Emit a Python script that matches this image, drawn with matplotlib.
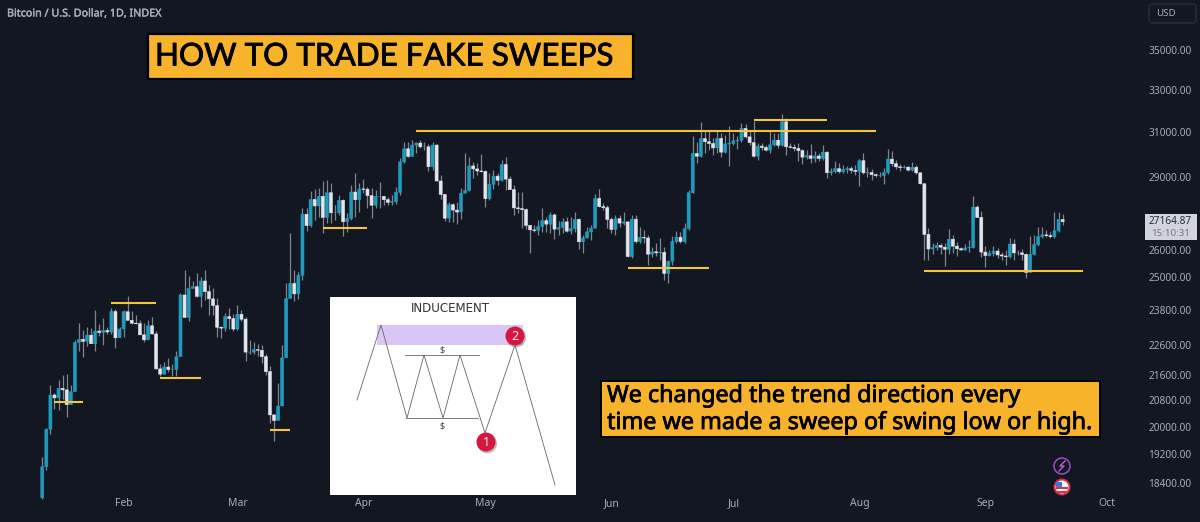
import numpy as np
import pandas as pd
import matplotlib
matplotlib.use("Agg")
import matplotlib.pyplot as plt
import matplotlib.dates as mdates
import matplotlib.patheffects as pe
from matplotlib.patches import Rectangle, Circle, FancyBboxPatch
from matplotlib.ticker import FixedLocator, FormatStrFormatter, NullLocator

plt.rcParams['font.family'] = ['Noto Sans', 'DejaVu Sans']

first_open = 18000
closes = [
    18850, 19930, 20970, 20880, 21180, 21130, 20670, 21070, 22670, 22780, 22710, 22920, 22630, 23060, 23010, 23080, 23030, 23740, 22830, 23130,
    23730, 23430, 23330, 23320, 22930, 22760, 23240, 22960, 21800, 21630, 21860, 21780, 21780, 22200, 24330, 23530, 24570, 24630, 24280, 24840, 24450, 24190, 23950, 23190, 23160, 23560, 23490, 23130,
    23640, 23470, 22350, 22350, 22430, 22410, 22200, 21710, 20360, 20190, 20630, 22160, 24200, 24750, 24370, 25050, 27430, 26970, 28040, 27770, 28170, 27300, 28320, 27490, 27490, 28000, 27130, 27260, 28350, 28030, 28480,
    28470, 28200, 27800, 28170, 28170, 28030, 27920, 27950, 28340, 29650, 30230, 29890, 30400, 30490, 30320, 30320, 29440, 30400, 28820, 28250, 27270, 27820, 27600, 27520, 28300, 28420, 29470, 29340, 29250, 29230,
    28070, 28680, 29030, 28850, 29530, 28900, 28450, 27690, 27660, 27620, 26980, 26800, 26780, 26930, 27170, 27030, 27400, 26830, 26890, 27120, 26750, 26850, 27220, 26330, 26480, 26720, 26870, 28080, 27740, 27700, 27220,
    26820, 27250, 27070, 27120, 25760, 27230, 26340, 26500, 26480, 25850, 25940, 25900, 25920, 25120, 25580, 26340, 26510, 26340, 26850, 28320, 30020, 29900, 30690, 30550, 30470, 30270, 30700, 30080, 30450, 30470,
    30590, 30620, 31160, 30770, 30510, 29900, 30350, 30290, 30170, 30410, 30620, 30390, 31470, 30320, 30300, 30250, 30150, 29860, 29920, 29800, 29910, 29800, 30080, 29180, 29230, 29350, 29220, 29320, 29350, 29280, 29230,
    29700, 29170, 29180, 29090, 29050, 29050, 29180, 29770, 29570, 29430, 29400, 29420, 29290, 29410, 29170, 28700, 26620, 26050, 26100, 26190, 26120, 26040, 26430, 26160, 26060, 26010, 26090, 26100, 27720, 27300, 25930,
    25800, 25870, 25970, 25820, 25780, 25750, 26240, 25900, 25900, 25840, 25160, 25840, 26220, 26530, 26600, 26570, 26530, 26760, 27210, 27130,
]
highs = [
    19130, 19960, 21270, 21040, 21440, 21600, 21650, 21270, 22750, 23350, 23080, 23200, 23150, 23800, 23300, 23500, 23200, 23880, 23830, 23200,
    23800, 24300, 23750, 23600, 23450, 23330, 23450, 23530, 23050, 21960, 22010, 22150, 21950, 22400, 24400, 25250, 25020, 24850, 25120, 25000, 25250, 24680, 24580, 24220, 23250, 23680, 23880, 23650,
    23980, 23780, 23560, 22760, 22700, 22620, 22600, 22300, 21900, 20350, 21350, 22600, 24770, 26660, 25250, 25170, 27700, 27700, 28400, 28470, 28500, 28800, 28860, 28720, 27810, 28230, 28050, 27470, 28650, 29180, 28720,
    28890, 28550, 28510, 28440, 28790, 28200, 28160, 28230, 28550, 29810, 30560, 30560, 30610, 30560, 30640, 30560, 30460, 30520, 30460, 29080, 28270, 27950, 27880, 27950, 28510, 30060, 29850, 29660, 29590, 30000,
    29300, 29150, 29300, 29150, 29730, 29880, 29040, 28650, 28370, 28370, 27680, 27000, 27000, 27200, 27680, 27330, 27540, 27470, 27170, 27260, 27330, 27330, 27540, 27260, 26600, 26930, 27000, 28270, 28470, 27880, 27810,
    27330, 27400, 27400, 27540, 27170, 27400, 27400, 26930, 26800, 26600, 26140, 26300, 26470, 26140, 25630, 26560, 26770, 26730, 27070, 28440, 30820, 30560, 31480, 31020, 31020, 30710, 31020, 30940, 30860, 31280,
    30940, 30820, 31400, 31370, 31020, 31520, 30490, 30490, 30410, 31020, 30940, 30940, 31840, 31630, 30490, 30460, 30490, 30210, 30180, 30460, 30110, 30060, 30410, 30110, 29370, 29700, 29590, 29510, 29470, 29470, 29510,
    29760, 30060, 29440, 29330, 29150, 29220, 29370, 30210, 30150, 29730, 29560, 29510, 29470, 29660, 29510, 29220, 28750, 26870, 26300, 26340, 26300, 26270, 26830, 26600, 26340, 26140, 26250, 26400, 28190, 27810, 27580,
    26170, 26010, 26170, 26080, 25950, 26010, 26470, 26430, 26010, 26040, 25880, 26560, 26600, 26900, 26900, 26800, 26730, 27510, 27540, 27450,
]
lows = [
    17980, 18770, 19800, 20550, 20500, 20840, 20300, 20700, 21130, 22400, 22200, 22550, 22650, 22400, 22900, 22600, 22950, 22950, 22500, 22870,
    22870, 23550, 23300, 23300, 22970, 22700, 22780, 22970, 21800, 21580, 21640, 21700, 21580, 21580, 22300, 23530, 23420, 24600, 24270, 23900, 24150, 23630, 23600, 22850, 22830, 23070, 23130, 23050,
    23100, 23400, 22070, 22300, 22300, 22230, 22000, 21600, 20120, 19570, 20250, 20760, 22240, 24300, 24100, 24200, 24890, 26760, 26900, 27200, 27300, 26660, 27070, 27070, 27200, 27400, 26560, 26730, 27200, 27330, 27540,
    28300, 27680, 27270, 27680, 27680, 27810, 27810, 27810, 27840, 28230, 29610, 29880, 29910, 30030, 30260, 30180, 29270, 29300, 28830, 28050, 27170, 27130, 27130, 27040, 27220, 28370, 28410, 28940, 29080, 29220,
    27710, 28020, 28470, 28650, 28830, 28440, 28550, 27400, 27470, 26870, 26830, 25880, 26730, 26600, 26730, 26730, 26670, 26430, 26600, 26690, 26730, 26630, 26730, 26040, 25910, 26470, 26400, 26870, 27740, 27610, 26870,
    26670, 26600, 26930, 27000, 25760, 25700, 26270, 26270, 26270, 25440, 25760, 25780, 25630, 24860, 24780, 25440, 26270, 26300, 26300, 26800, 28300, 29590, 29850, 30030, 30180, 29950, 30030, 29880, 30030, 29470,
    30410, 30210, 30560, 30710, 30410, 29850, 29730, 30180, 30110, 30030, 30340, 30260, 30370, 29950, 30260, 30110, 29700, 29560, 29760, 29590, 29660, 29700, 29730, 28940, 29080, 29150, 29150, 29180, 29180, 29180, 29080,
    28610, 29120, 29010, 28860, 28980, 28980, 28690, 29120, 29470, 29330, 29270, 29370, 29270, 29270, 29120, 28690, 25630, 25630, 25860, 26010, 25860, 25410, 25860, 25880, 25780, 26010, 26010, 25950, 26080, 27300, 25730,
    25380, 25780, 25780, 25700, 25610, 25440, 25700, 25610, 25820, 25630, 24950, 25160, 25820, 26170, 26470, 26510, 26470, 26470, 26730, 27000,
]

price_ticks = [18400, 19200, 20000, 20800, 21600, 22600, 23800, 25000, 26000, 29000, 31000, 33000, 35000]

# swing levels drawn on the chart
sweep_prices = [20750, 24040, 21520, 19900, 26880, 31060, 31550, 25330, 25230]
sweep_starts = ['2023-01-15', '2023-01-29', '2023-02-10', '2023-03-09', '2023-03-22', '2023-04-14', '2023-07-06', '2023-06-05', '2023-08-17']
sweep_ends = ['2023-01-22', '2023-02-09', '2023-02-20', '2023-03-14', '2023-04-02', '2023-08-05', '2023-07-24', '2023-06-25', '2023-09-25']

# inducement schematic, in the inset's own units
schematic_x = [27, 51, 77, 94, 113, 130, 155, 185, 225]
schematic_y = [103, 28, 121, 58, 121, 58, 136, 48, 188]

BG = '#131722'
TEAL = '#1f9cbd'
WHITE = '#e3e5ec'
WICK = '#80848e'
GOLD = '#f3c53f'
BOX = '#f7b32b'
LABEL = '#a9acb5'


def main():
    fig = plt.figure(figsize=(12, 5.22), dpi=100, facecolor=BG)
    ax = fig.add_axes([0, 0, 1, 1], facecolor=BG)

    dates = pd.date_range('2023-01-12', periods=len(closes))
    close = np.array(closes, dtype=float)
    opens = np.concatenate(([first_open], close[:-1]))
    up = close >= opens

    ax.vlines(dates, lows, highs, color=WICK, linewidth=0.9, zorder=2)
    up_bars = ax.bar(dates[up], (close - opens)[up], bottom=opens[up], width=0.74,
                     color=TEAL, edgecolor=TEAL, linewidth=0.4, zorder=3)
    down_bars = ax.bar(dates[~up], (opens - close)[~up], bottom=close[~up], width=0.74,
                       color=WHITE, edgecolor=WHITE, linewidth=0.4, zorder=3)
    for bar in list(up_bars) + list(down_bars):
        bar.set_snap(False)

    for price, start, end in zip(sweep_prices, sweep_starts, sweep_ends):
        ax.hlines(price, pd.Timestamp(start), pd.Timestamp(end), color=GOLD, linewidth=1.5, zorder=4)

    ax.set_yscale('log')
    ax.set_ylim(17364, 37710)
    first_day = mdates.date2num(dates[0])
    ax.set_xlim(first_day - 10.4, first_day + 284.8)

    ax.yaxis.set_major_locator(FixedLocator(price_ticks))
    ax.yaxis.set_major_formatter(FormatStrFormatter('%.2f'))
    ax.yaxis.set_minor_locator(NullLocator())
    ax.xaxis.set_major_locator(mdates.MonthLocator())
    ax.xaxis.set_major_formatter(mdates.DateFormatter('%b'))
    ax.tick_params(axis='y', length=0, left=False, right=False, labelleft=False, labelright=True,
                   pad=-6, labelsize=7.3, labelcolor=LABEL)
    ax.tick_params(axis='x', length=0, pad=-17, labelsize=7.5, labelcolor=LABEL)
    for label in ax.get_yticklabels():
        label.set_ha('right')
    for spine in ax.spines.values():
        spine.set_visible(False)

    # overlay in picture pixels for the header, boxes and badges
    ov = fig.add_axes([0, 0, 1, 1], zorder=5)
    ov.set_xlim(0, 1200)
    ov.set_ylim(522, 0)
    ov.axis('off')

    ov.text(7, 14, 'Bitcoin / U.S. Dollar, 1D, INDEX', color=LABEL, fontsize=7.75, va='center', ha='left',
            path_effects=[pe.withStroke(linewidth=0.3, foreground=LABEL)])

    ov.add_patch(FancyBboxPatch((1149, 4), 47, 19, boxstyle='round,pad=0,rounding_size=3',
                                facecolor=BG, edgecolor='#2a2e39', linewidth=1))
    ov.text(1156, 13.5, 'USD', color=LABEL, fontsize=7, va='center', ha='left')

    ov.add_patch(Rectangle((1145, 214), 52, 26, facecolor='#d1d4dc', edgecolor='none'))
    ov.text(1192, 221, '27164.87', color='#2a2e39', fontsize=7.3, va='center', ha='right')
    ov.text(1190, 233, '15:10:31', color='#6f7480', fontsize=7, va='center', ha='right')

    ov.add_patch(Rectangle((148, 34), 485, 45, facecolor=BOX, edgecolor='black', linewidth=1.6))
    ov.text(155, 56.5, 'HOW TO TRADE FAKE SWEEPS', color='black', fontsize=22.6,
            family=['Lato', 'DejaVu Sans'], va='center', ha='left',
            path_effects=[pe.withStroke(linewidth=0.6, foreground='black')])

    ov.add_patch(Rectangle((601, 381), 499, 56, facecolor=BOX, edgecolor='black', linewidth=1.4))
    stroke = [pe.withStroke(linewidth=0.55, foreground='black')]
    ov.text(607, 396, 'We changed the trend direction every', color='black', fontsize=16.8,
            va='center', ha='left', path_effects=stroke)
    ov.text(607, 423, 'time we made a sweep of swing low or high.', color='black', fontsize=16.8,
            va='center', ha='left', path_effects=stroke)

    ov.add_patch(Circle((1062, 466), 8, facecolor='none', edgecolor='#9c4fc4', linewidth=1.1))
    ov.plot([1065, 1060, 1064, 1059], [461, 466, 466, 471], color='#b45fd8', linewidth=1)
    ov.add_patch(Circle((1062, 487), 7.5, facecolor='#f4f4f6', edgecolor='#d3354a', linewidth=1.4))
    ov.add_patch(Rectangle((1056, 487), 12, 2, facecolor='#d3354a', edgecolor='none'))
    ov.add_patch(Rectangle((1056, 491), 12, 1.5, facecolor='#d3354a', edgecolor='none'))
    ov.add_patch(Rectangle((1056, 482), 6, 5, facecolor='#3c78d8', edgecolor='none'))

    # white picture with the inducement schematic
    inset = fig.add_axes([330 / 1200, 1 - 495 / 522, 246 / 1200, 198 / 522], zorder=6, facecolor='white')
    inset.set_xlim(0, 246)
    inset.set_ylim(198, 0)
    inset.set_xticks([])
    inset.set_yticks([])
    for spine in inset.spines.values():
        spine.set_visible(False)

    inset.add_patch(Rectangle((47, 28), 146, 20, facecolor='#d9c6f7', edgecolor='none'))
    inset.plot(schematic_x, schematic_y, color='#666666', linewidth=0.6)
    inset.plot([75, 149], [58, 58], color='#666666', linewidth=0.6)
    inset.plot([76, 148], [121, 121], color='#666666', linewidth=0.6)
    inset.text(112, 53, '$', color='#444444', fontsize=6.5, ha='center', va='center')
    inset.text(112, 129, '$', color='#444444', fontsize=6.5, ha='center', va='center')
    inset.text(120, 12, 'INDUCEMENT', color='#333333', fontsize=8.6, ha='center', va='center',
               family=['DejaVu Sans'])

    for num, cx, cy in [('1', 156, 145), ('2', 185, 39)]:
        inset.add_patch(Circle((cx + 1.2, cy + 1.5), 9.8, facecolor='#777777', edgecolor='none', alpha=0.5))
        inset.add_patch(Circle((cx, cy), 9.5, facecolor='#d8173f', edgecolor='none'))
        inset.text(cx, cy, num, color='white', fontsize=9, fontweight='bold', ha='center', va='center')

    plt.savefig('out.png', dpi=100, facecolor=BG)


if __name__ == "__main__":
    main()
